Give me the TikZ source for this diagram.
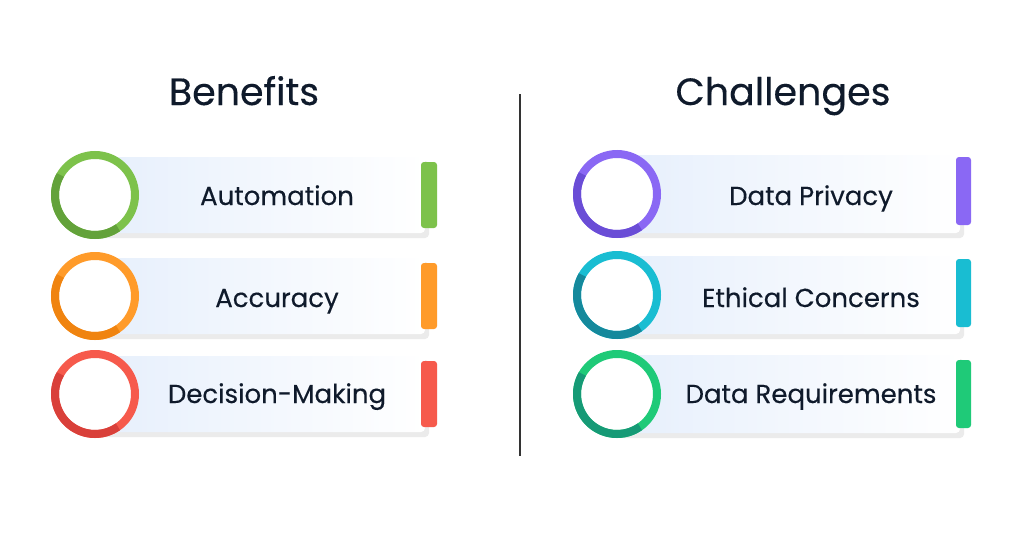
\documentclass[tikz,border=0pt]{standalone}
\usepackage{fontspec}
\setmainfont{Poppins}[FakeBold=0.3]
\definecolor{c0f1a2b}{RGB}{15,26,43}
\definecolor{c333333}{RGB}{51,51,51}
\definecolor{ce6effc}{RGB}{230,239,252}
\definecolor{c7dc24b}{RGB}{125,194,75}
\definecolor{c63a23a}{RGB}{99,162,58}
\definecolor{cff9b2a}{RGB}{255,155,42}
\definecolor{cf08410}{RGB}{240,132,16}
\definecolor{cf65a4c}{RGB}{246,90,76}
\definecolor{cd9403a}{RGB}{217,64,58}
\definecolor{c8a68f4}{RGB}{138,104,244}
\definecolor{c6a4dd6}{RGB}{106,77,214}
\definecolor{c19bdd2}{RGB}{25,189,210}
\definecolor{c15899c}{RGB}{21,137,156}
\definecolor{c1fca78}{RGB}{31,202,120}
\definecolor{c169a76}{RGB}{22,154,118}

\begin{document}
\begin{tikzpicture}[y=1pt, x=1pt, yscale=-1, inner sep=0pt, outer sep=0pt,
  title/.style={text=c0f1a2b, anchor=base, font=\fontsize{38}{44}\selectfont},
  label/.style={text=c0f1a2b, anchor=base, font=\fontsize{26}{30}\selectfont},
  shade/.style={fill=black!8, rounded corners=4pt},
  card/.style={left color=ce6effc, right color=white, rounded corners=4pt},
  ring/.style={circle, minimum size=80pt, line width=8pt, fill=white},
  arcring/.style={line width=8pt},
  tab/.style={rounded corners=3pt}]
\useasboundingbox[fill=white] (0,0) rectangle (1024,536);

\node[title] (benefits) at (244,105) {Benefits};
\node[title] (challenges) at (783,105) {Challenges};
\draw[c333333, line width=2pt] (520,94) -- (520,456);

% benefits
\path[shade] (98,161) rectangle (429,238);
\path[card] (95,157) rectangle (425,233);
\path[fill=c7dc24b, tab] (421,162) rectangle (437,228);
\node[ring, draw=c7dc24b] (ring1) at (95,195) {};
\draw[c63a23a, arcring] (ring1.center) ++(-150:40) arc[start angle=-150, end angle=-305, radius=40];
\node[label] (automation) at (277,205) {Automation};

\path[shade] (98,262) rectangle (429,339);
\path[card] (95,258) rectangle (425,334);
\path[fill=cff9b2a, tab] (421,263) rectangle (437,329);
\node[ring, draw=cff9b2a] (ring2) at (95,296) {};
\draw[cf08410, arcring] (ring2.center) ++(-150:40) arc[start angle=-150, end angle=-305, radius=40];
\node[label] (accuracy) at (277,307) {Accuracy};

\path[shade] (98,360) rectangle (429,437);
\path[card] (95,356) rectangle (425,432);
\path[fill=cf65a4c, tab] (421,361) rectangle (437,427);
\node[ring, draw=cf65a4c] (ring3) at (95,394) {};
\draw[cd9403a, arcring] (ring3.center) ++(-150:40) arc[start angle=-150, end angle=-305, radius=40];
\node[label] (decision) at (277,403) {Decision-Making};

% challenges
\path[shade] (620,159) rectangle (964,238);
\path[card] (617,155) rectangle (960,233);
\path[fill=c8a68f4, tab] (956,157) rectangle (971,225);
\node[ring, draw=c8a68f4] (ring4) at (617,194) {};
\draw[c6a4dd6, arcring] (ring4.center) ++(-150:40) arc[start angle=-150, end angle=-305, radius=40];
\node[label] (privacy) at (811,205) {Data Privacy};

\path[shade] (620,260) rectangle (964,339);
\path[card] (617,256) rectangle (960,334);
\path[fill=c19bdd2, tab] (956,259) rectangle (971,327);
\node[ring, draw=c19bdd2] (ring5) at (617,295) {};
\draw[c15899c, arcring] (ring5.center) ++(-150:40) arc[start angle=-150, end angle=-305, radius=40];
\node[label] (ethical) at (811,307) {Ethical Concerns};

\path[shade] (620,359) rectangle (964,438);
\path[card] (617,355) rectangle (960,433);
\path[fill=c1fca78, tab] (956,360) rectangle (971,428);
\node[ring, draw=c1fca78] (ring6) at (617,394) {};
\draw[c169a76, arcring] (ring6.center) ++(-150:40) arc[start angle=-150, end angle=-305, radius=40];
\node[label] (requirements) at (811,403) {Data Requirements};
\end{tikzpicture}
\end{document}
